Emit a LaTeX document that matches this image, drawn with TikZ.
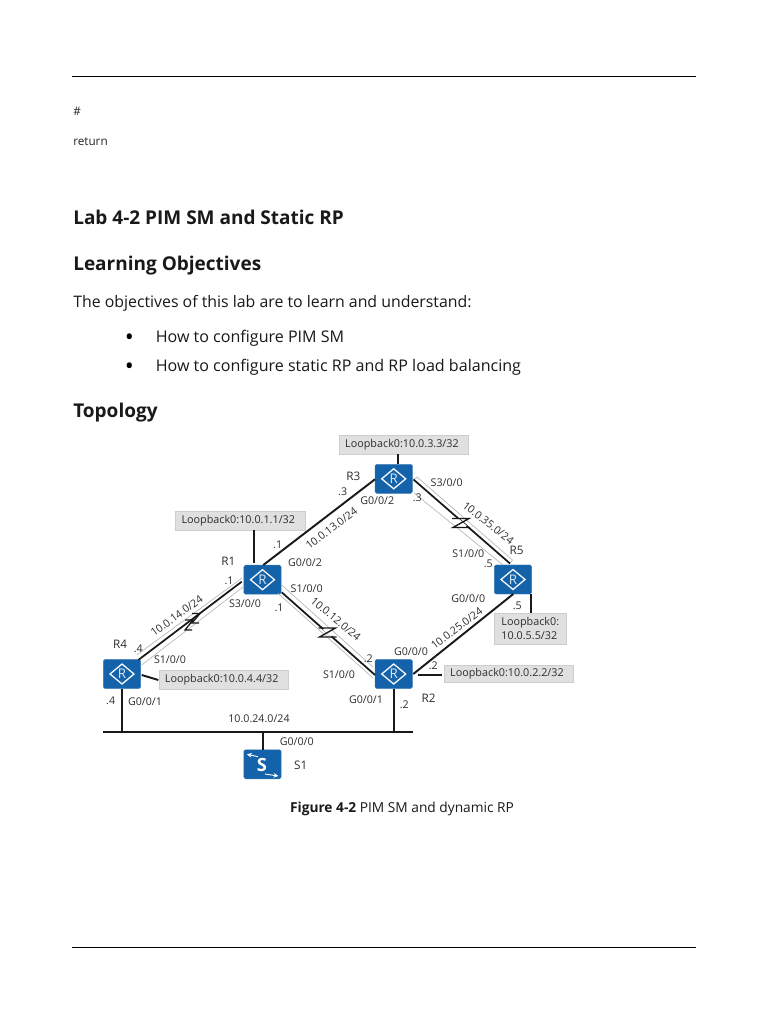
\documentclass[tikz,border=0pt]{standalone}
\usepackage{fontspec}
\setmainfont{Open Sans}
\usetikzlibrary{calc,arrows.meta}
\definecolor{rblue}{RGB}{20,98,170}
\definecolor{lbg}{RGB}{224,224,224}
\definecolor{lbd}{RGB}{205,205,205}
\definecolor{txt}{RGB}{45,45,45}
\tikzset{
 x=0.75pt,y=-0.75pt,
 dev/.style={fill=rblue,draw=rblue!85,rounded corners=1.2pt,minimum width=28pt,minimum height=21.8pt,inner sep=0pt,line width=.3pt},
 loop/.style={fill=lbg,draw=lbd,line width=.4pt,inner sep=0pt,font=\fontsize{8.1}{10.4}\selectfont,text=txt},
 lab/.style={inner sep=0pt,font=\fontsize{8}{9}\selectfont,text=txt},
 rname/.style={inner sep=0pt,font=\fontsize{8.8}{10}\selectfont,text=txt},
 thick link/.style={draw=black!90,line width=1.45pt},
 serial/.style={draw=black!90,line width=1.3pt},
 zstroke/.style={draw=black!90,line width=1pt,line join=miter},
 frame/.style={draw=lbd!90!black,line width=.5pt},
 body/.style={inner sep=0pt,anchor=base west,font=\fontsize{11.9}{13}\selectfont,text=black!90},
 item/.style={inner sep=0pt,anchor=base west,font=\fontsize{12.05}{13}\selectfont,text=black!90},
 bul/.style={inner sep=0pt,anchor=base west,font=\fontsize{18}{18}\selectfont,text=black},
 head/.style={inner sep=0pt,anchor=base west,font=\fontsize{14.25}{16}\selectfont\bfseries,text=black!90},
 small/.style={inner sep=0pt,anchor=base west,font=\fontsize{8.8}{10}\selectfont,text=black!85},
 rule/.style={draw=black,line width=.75pt},
}
\newcommand{\routermark}[1]{%
 \draw[white!95!rblue,line width=1pt,line join=miter] ($(#1)+(-12,0)$)--($(#1)+(0,-10)$)--($(#1)+(12,0)$)--($(#1)+(0,10)$)--cycle;
 \node[inner sep=0pt,text=white!85!rblue,font=\fontsize{10}{10}\selectfont] at (#1) {R};}
% Z mark of a serial link, centred at the given point
\newcommand{\zmark}[2]{%
 \draw[zstroke] ($(#1,#2)+(-9,-4.5)$)--($(#1,#2)+(8,-4.5)$)--($(#1,#2)+(-8,4.5)$)--($(#1,#2)+(9,4.5)$);}
\begin{document}
\begin{tikzpicture}
\useasboundingbox (0,0) rectangle (768,1024);
\fill[white] (0,0) rectangle (768,1024);
% page furniture
\coordinate (t1) at (72,76.5); \coordinate (t2) at (696,76.5);
\coordinate (b1) at (72,947.5); \coordinate (b2) at (696,947.5);
\draw[rule] (t1)--(t2); \draw[rule] (b1)--(b2);
\node[small] (hash) at (73,115) {\#};
\node[small] (ret) at (73,145) {return};
\node[head] (h1) at (73,224.5) {Lab 4-2 PIM SM and Static RP};
\node[head] (h2) at (73,270.5) {Learning Objectives};
\node[body] (p1) at (73,307) {The objectives of this lab are to learn and understand:};
\node[bul] (bu1) at (124.5,345) {•}; \node[item] (i1) at (155.5,342) {How to configure PIM SM};
\node[bul] (bu2) at (124.5,374) {•}; \node[item] (i2) at (155.5,371) {How to configure static RP and RP load balancing};
\node[head] (h3) at (73,417.5) {Topology};
% devices
\node[dev] (R3) at (393.7,478.8) {};
\node[dev] (R1) at (262.5,579.7) {};
\node[dev] (R5) at (513,579.5) {};
\node[dev] (R4) at (122,674) {};
\node[dev] (R2) at (393.7,674) {};
\node[dev] (S1) at (262.5,764.3) {};
% loopback boxes
\node[loop,minimum width=97pt,minimum height=14.2pt] (L3) at (404,444.5) {Loopback0:10.0.3.3/32\hspace*{3pt}};
\node[loop,minimum width=97pt,minimum height=14.2pt] (L1) at (240.3,520.7) {Loopback0:10.0.1.1/32\hspace*{3pt}};
\node[loop,minimum width=97pt,minimum height=14.2pt] (L4) at (223.7,679.3) {Loopback0:10.0.4.4/32\hspace*{3pt}};
\node[loop,minimum width=97pt,minimum height=13.4pt] (L2) at (509,673.8) {Loopback0:10.0.2.2/32\hspace*{3pt}};
\node[loop,minimum width=54.5pt,minimum height=23pt,align=left] (L5) at (530.3,628.7) {Loopback0:\\10.0.5.5/32};
% LAN segment
\coordinate (lanL) at (103.3,731.7); \coordinate (lanR) at (413.3,731.7);
\coordinate (lan4) at (122,731.7); \coordinate (lan2) at (394.3,731.7); \coordinate (lanS) at (262.7,731.7);
\draw[thick link] (lanL)--(lanR);
\draw[thick link] (R4.south -| lan4)--(lan4);
\draw[thick link] (R2.south -| lan2)--(lan2);
\draw[thick link] (lanS)--(lanS |- S1.north);
% ethernet links
\coordinate (r1a) at (253.7,562.7);
\draw[thick link] (L1.south -| r1a)--(r1a);
\coordinate (r3a) at (397.7,464.3);
\draw[thick link] (r3a)--(r3a |- L3.south);
\coordinate (r13a) at (263.3,565); \coordinate (r13b) at (375,479.3);
\draw[thick link] (r13a)--(r13b);
\coordinate (r25a) at (413.3,674); \coordinate (r25b) at (513.3,594);
\draw[thick link] (r25a)--(r25b);
\coordinate (r5l) at (530.7,594);
\draw[thick link] (r5l)--(r5l |- L5.north);
\coordinate (r2l) at (418,674.7); \coordinate (r2r) at (441.7,674.7);
\draw[thick link] (r2l)--(r2r);
\coordinate (r4l) at (141.7,675); \coordinate (l4l) at (158.3,680);
\draw[thick link] (r4l)--(l4l);
% serial links: R3-R5
\coordinate (a35) at (413.5,479.5); \coordinate (b35) at (510,563.5);
\coordinate (ua35) at (417,477); \coordinate (ub35) at (512.5,560);
\coordinate (la35) at (414,493); \coordinate (lb35) at (503,565);
\draw[frame] (ua35)--(ub35); \draw[frame] (la35)--(lb35); \draw[frame] (a35)--(ua35); \draw[frame] (b35)--(ub35);
\draw[serial] (a35)--(b35);
\draw[white,line width=1.6pt] (458,519.5)--(466,526.5);
\zmark{461}{523}
% serial links: R1-R4
\coordinate (a14) at (241.7,581.7); \coordinate (b14) at (138.3,660);
\coordinate (ua14) at (241.7,578.3); \coordinate (ub14) at (136.7,655);
\coordinate (la14) at (243,587); \coordinate (lb14) at (141.7,665);
\draw[frame] (ua14)--(ub14); \draw[frame] (la14)--(lb14);
\draw[serial] (a14)--(b14);
\draw[zstroke] (192,613.5)--(200,613.5)--(192,623)--(199,623);
\draw[zstroke] (185,620)--(193,620)--(185,630)--(192,630);
% serial links: R1-R2
\coordinate (a12) at (281.7,592.3); \coordinate (b12) at (375,675);
\coordinate (ua12) at (281.7,585); \coordinate (ub12) at (373,667);
\coordinate (la12) at (278,593.3); \coordinate (lb12) at (373,678);
\draw[frame] (ua12)--(ub12); \draw[frame] (la12)--(lb12);
\draw[serial] (a12)--(b12);
\draw[white,line width=1.6pt] (323.5,629)--(331.5,636);
\zmark{327.5}{632.5}
% device marks
\routermark{R3}\routermark{R1}\routermark{R5}\routermark{R4}\routermark{R2}
\node[inner sep=0pt,text=white,font=\fontsize{13.7}{14}\selectfont\bfseries] (Smark) at (262,764.5) {S};
\draw[white,line width=.7pt,-{Stealth[length=3.5pt,width=3.5pt]}] (258,756.7)--(247,754.3);
\draw[white,line width=.7pt,-{Stealth[length=3.5pt,width=3.5pt]}] (265,774)--(278.3,776);
% device names
\node[rname] (nR3) at (353.3,476.7) {R3};
\node[rname] (nR1) at (228.3,561.7) {R1};
\node[rname] (nR5) at (516.7,550.7) {R5};
\node[rname] (nR4) at (120,644) {R4};
\node[rname] (nR2) at (428.7,698.3) {R2};
\node[rname] (nS1) at (300.7,765.3) {S1};
% addresses
\foreach \n/\x/\y/\t in {a1/342.7/491.7/.3,a2/417.3/497.7/.3,a3/277.7/544.3/.1,a4/229/580.7/.1,a5/279/607.3/.1,a6/488.3/564/.5,a7/517.3/606/.5,a8/138.3/649/.4,a9/368.3/658.3/.2,a10/433.3/665.7/.2,a11/110.7/700.7/.4,a12/404.3/705/.2}
 \node[lab] (\n) at (\x,\y) {\t};
% interfaces
\node[lab] (b1) at (377.3,501) {G0/0/2};
\node[lab] (b2) at (446.7,482.7) {S3/0/0};
\node[lab] (b3) at (305,562.3) {G0/0/2};
\node[lab] (b4) at (306.7,588.3) {S1/0/0};
\node[lab] (b5) at (245,603.3) {S3/0/0};
\node[lab] (b6) at (468.3,554) {S1/0/0};
\node[lab] (b7) at (468.3,598.3) {G0/0/0};
\node[lab] (b8) at (170,659.5) {S1/0/0};
\node[lab] (b9) at (411,651.7) {G0/0/0};
\node[lab] (b10) at (339,674.3) {S1/0/0};
\node[lab] (b11) at (366,700) {G0/0/1};
\node[lab] (b12) at (145,701.7) {G0/0/1};
\node[lab] (b13) at (296.7,741.7) {G0/0/0};
\node[lab] (n24) at (259,719) {10.0.24.0/24};
% rotated subnets
\node[lab,rotate=37] (n13) at (331.5,528.5) {10.0.13.0/24};
\node[lab,rotate=-38] (n35) at (488.3,523) {10.0.35.0/24};
\node[lab,rotate=36] (n14) at (176.7,615.8) {10.0.14.0/24};
\node[lab,rotate=-40] (n12) at (335.8,619) {10.0.12.0/24};
\node[lab,rotate=37] (n25) at (456.7,628.3) {10.0.25.0/24};
% caption
\node[inner sep=0pt,font=\fontsize{10.3}{12}\selectfont,text=black!90] (cap) at (402,809) {\textbf{Figure 4-2} PIM SM and dynamic RP};
\end{tikzpicture}
\end{document}
